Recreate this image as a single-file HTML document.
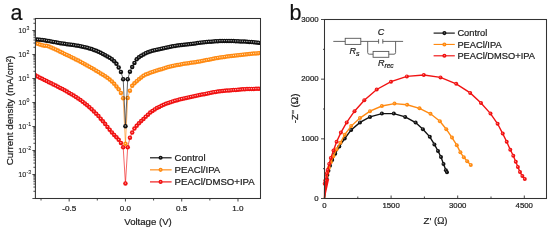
<!DOCTYPE html>
<html><head><meta charset="utf-8"><style>
html,body{margin:0;padding:0;background:#fff;width:550px;height:231px;overflow:hidden}
svg{display:block;filter:blur(0.3px)}
</style></head><body>
<svg width="550" height="231" viewBox="0 0 550 231">
<text x="10.6" y="20.2" font-size="21.5" fill="#111" font-family="Liberation Sans, sans-serif" stroke="#222" stroke-width="0.22">a</text>
<clipPath id="clipa"><rect x="35.4" y="18.5" width="225.1" height="180.0"/></clipPath><g clip-path="url(#clipa)">
<path d="M35.40,75.30 L37.65,76.48 L39.90,77.65 L42.15,78.80 L44.40,79.94 L46.65,81.07 L48.91,82.20 L51.16,83.33 L53.41,84.46 L55.66,85.60 L57.91,86.75 L60.16,87.92 L62.41,89.12 L64.66,90.34 L66.91,91.60 L69.16,92.89 L71.42,94.22 L73.67,95.60 L75.92,97.03 L78.17,98.53 L80.42,100.10 L82.67,101.74 L84.92,103.47 L87.17,105.29 L89.42,107.22 L91.67,109.26 L93.93,111.42 L96.18,113.70 L98.43,116.12 L100.68,118.66 L102.93,121.36 L105.18,124.12 L107.43,126.91 L109.68,129.69 L111.93,132.38 L114.18,134.92 L116.44,137.35 L118.69,139.85 L120.94,142.88 L123.19,147.30 L125.44,183.40 L127.69,147.30 L129.94,137.67 L132.19,132.61 L134.44,128.58 L136.70,125.86 L138.95,123.36 L141.20,121.05 L143.45,119.05 L145.70,116.78 L147.95,114.64 L150.20,112.62 L152.45,110.88 L154.70,109.38 L156.95,108.06 L159.21,106.89 L161.46,105.81 L163.71,104.80 L165.96,103.86 L168.21,102.99 L170.46,102.18 L172.71,101.44 L174.96,100.76 L177.21,100.13 L179.46,99.53 L181.72,98.96 L183.97,98.41 L186.22,97.88 L188.47,97.38 L190.72,96.90 L192.97,96.43 L195.22,95.97 L197.47,95.50 L199.72,95.05 L201.97,94.60 L204.23,94.16 L206.48,93.69 L208.73,93.20 L210.98,92.71 L213.23,92.26 L215.48,91.89 L217.73,91.58 L219.98,91.30 L222.23,91.05 L224.48,90.82 L226.74,90.62 L228.99,90.43 L231.24,90.26 L233.49,90.10 L235.74,89.94 L237.99,89.75 L240.24,89.55 L242.49,89.35 L244.74,89.18 L246.99,89.08 L249.25,89.01 L251.50,88.94 L253.75,88.88 L256.00,88.84 L258.25,88.81 L260.50,88.80" fill="none" stroke="#F01212" stroke-width="0.65"/>
<g fill="#F01212"><circle cx="35.40" cy="75.30" r="2.25"/><circle cx="37.65" cy="76.48" r="2.25"/><circle cx="39.90" cy="77.65" r="2.25"/><circle cx="42.15" cy="78.80" r="2.25"/><circle cx="44.40" cy="79.94" r="2.25"/><circle cx="46.65" cy="81.07" r="2.25"/><circle cx="48.91" cy="82.20" r="2.25"/><circle cx="51.16" cy="83.33" r="2.25"/><circle cx="53.41" cy="84.46" r="2.25"/><circle cx="55.66" cy="85.60" r="2.25"/><circle cx="57.91" cy="86.75" r="2.25"/><circle cx="60.16" cy="87.92" r="2.25"/><circle cx="62.41" cy="89.12" r="2.25"/><circle cx="64.66" cy="90.34" r="2.25"/><circle cx="66.91" cy="91.60" r="2.25"/><circle cx="69.16" cy="92.89" r="2.25"/><circle cx="71.42" cy="94.22" r="2.25"/><circle cx="73.67" cy="95.60" r="2.25"/><circle cx="75.92" cy="97.03" r="2.25"/><circle cx="78.17" cy="98.53" r="2.25"/><circle cx="80.42" cy="100.10" r="2.25"/><circle cx="82.67" cy="101.74" r="2.25"/><circle cx="84.92" cy="103.47" r="2.25"/><circle cx="87.17" cy="105.29" r="2.25"/><circle cx="89.42" cy="107.22" r="2.25"/><circle cx="91.67" cy="109.26" r="2.25"/><circle cx="93.93" cy="111.42" r="2.25"/><circle cx="96.18" cy="113.70" r="2.25"/><circle cx="98.43" cy="116.12" r="2.25"/><circle cx="100.68" cy="118.66" r="2.25"/><circle cx="102.93" cy="121.36" r="2.25"/><circle cx="105.18" cy="124.12" r="2.25"/><circle cx="107.43" cy="126.91" r="2.25"/><circle cx="109.68" cy="129.69" r="2.25"/><circle cx="111.93" cy="132.38" r="2.25"/><circle cx="114.18" cy="134.92" r="2.25"/><circle cx="116.44" cy="137.35" r="2.25"/><circle cx="118.69" cy="139.85" r="2.25"/><circle cx="120.94" cy="142.88" r="2.25"/><circle cx="123.19" cy="147.30" r="2.25"/><circle cx="125.44" cy="183.40" r="2.25"/><circle cx="127.69" cy="147.30" r="2.25"/><circle cx="129.94" cy="137.67" r="2.25"/><circle cx="132.19" cy="132.61" r="2.25"/><circle cx="134.44" cy="128.58" r="2.25"/><circle cx="136.70" cy="125.86" r="2.25"/><circle cx="138.95" cy="123.36" r="2.25"/><circle cx="141.20" cy="121.05" r="2.25"/><circle cx="143.45" cy="119.05" r="2.25"/><circle cx="145.70" cy="116.78" r="2.25"/><circle cx="147.95" cy="114.64" r="2.25"/><circle cx="150.20" cy="112.62" r="2.25"/><circle cx="152.45" cy="110.88" r="2.25"/><circle cx="154.70" cy="109.38" r="2.25"/><circle cx="156.95" cy="108.06" r="2.25"/><circle cx="159.21" cy="106.89" r="2.25"/><circle cx="161.46" cy="105.81" r="2.25"/><circle cx="163.71" cy="104.80" r="2.25"/><circle cx="165.96" cy="103.86" r="2.25"/><circle cx="168.21" cy="102.99" r="2.25"/><circle cx="170.46" cy="102.18" r="2.25"/><circle cx="172.71" cy="101.44" r="2.25"/><circle cx="174.96" cy="100.76" r="2.25"/><circle cx="177.21" cy="100.13" r="2.25"/><circle cx="179.46" cy="99.53" r="2.25"/><circle cx="181.72" cy="98.96" r="2.25"/><circle cx="183.97" cy="98.41" r="2.25"/><circle cx="186.22" cy="97.88" r="2.25"/><circle cx="188.47" cy="97.38" r="2.25"/><circle cx="190.72" cy="96.90" r="2.25"/><circle cx="192.97" cy="96.43" r="2.25"/><circle cx="195.22" cy="95.97" r="2.25"/><circle cx="197.47" cy="95.50" r="2.25"/><circle cx="199.72" cy="95.05" r="2.25"/><circle cx="201.97" cy="94.60" r="2.25"/><circle cx="204.23" cy="94.16" r="2.25"/><circle cx="206.48" cy="93.69" r="2.25"/><circle cx="208.73" cy="93.20" r="2.25"/><circle cx="210.98" cy="92.71" r="2.25"/><circle cx="213.23" cy="92.26" r="2.25"/><circle cx="215.48" cy="91.89" r="2.25"/><circle cx="217.73" cy="91.58" r="2.25"/><circle cx="219.98" cy="91.30" r="2.25"/><circle cx="222.23" cy="91.05" r="2.25"/><circle cx="224.48" cy="90.82" r="2.25"/><circle cx="226.74" cy="90.62" r="2.25"/><circle cx="228.99" cy="90.43" r="2.25"/><circle cx="231.24" cy="90.26" r="2.25"/><circle cx="233.49" cy="90.10" r="2.25"/><circle cx="235.74" cy="89.94" r="2.25"/><circle cx="237.99" cy="89.75" r="2.25"/><circle cx="240.24" cy="89.55" r="2.25"/><circle cx="242.49" cy="89.35" r="2.25"/><circle cx="244.74" cy="89.18" r="2.25"/><circle cx="246.99" cy="89.08" r="2.25"/><circle cx="249.25" cy="89.01" r="2.25"/><circle cx="251.50" cy="88.94" r="2.25"/><circle cx="253.75" cy="88.88" r="2.25"/><circle cx="256.00" cy="88.84" r="2.25"/><circle cx="258.25" cy="88.81" r="2.25"/><circle cx="260.50" cy="88.80" r="2.25"/></g>
<g fill="#FFC4C4"><circle cx="35.30" cy="75.00" r="0.62"/><circle cx="37.55" cy="76.18" r="0.62"/><circle cx="39.80" cy="77.35" r="0.62"/><circle cx="42.05" cy="78.50" r="0.62"/><circle cx="44.30" cy="79.64" r="0.62"/><circle cx="46.55" cy="80.77" r="0.62"/><circle cx="48.81" cy="81.90" r="0.62"/><circle cx="51.06" cy="83.03" r="0.62"/><circle cx="53.31" cy="84.16" r="0.62"/><circle cx="55.56" cy="85.30" r="0.62"/><circle cx="57.81" cy="86.45" r="0.62"/><circle cx="60.06" cy="87.62" r="0.62"/><circle cx="62.31" cy="88.82" r="0.62"/><circle cx="64.56" cy="90.04" r="0.62"/><circle cx="66.81" cy="91.30" r="0.62"/><circle cx="69.06" cy="92.59" r="0.62"/><circle cx="71.32" cy="93.92" r="0.62"/><circle cx="73.57" cy="95.30" r="0.62"/><circle cx="75.82" cy="96.73" r="0.62"/><circle cx="78.07" cy="98.23" r="0.62"/><circle cx="80.32" cy="99.80" r="0.62"/><circle cx="82.57" cy="101.44" r="0.62"/><circle cx="84.82" cy="103.17" r="0.62"/><circle cx="87.07" cy="104.99" r="0.62"/><circle cx="89.32" cy="106.92" r="0.62"/><circle cx="91.57" cy="108.96" r="0.62"/><circle cx="93.83" cy="111.12" r="0.62"/><circle cx="96.08" cy="113.40" r="0.62"/><circle cx="98.33" cy="115.82" r="0.62"/><circle cx="100.58" cy="118.36" r="0.62"/><circle cx="102.83" cy="121.06" r="0.62"/><circle cx="105.08" cy="123.82" r="0.62"/><circle cx="107.33" cy="126.61" r="0.62"/><circle cx="109.58" cy="129.39" r="0.62"/><circle cx="111.83" cy="132.08" r="0.62"/><circle cx="114.08" cy="134.62" r="0.62"/><circle cx="116.34" cy="137.05" r="0.62"/><circle cx="118.59" cy="139.55" r="0.62"/><circle cx="120.84" cy="142.58" r="0.62"/><circle cx="123.09" cy="147.00" r="0.62"/><circle cx="125.34" cy="183.10" r="0.62"/><circle cx="127.59" cy="147.00" r="0.62"/><circle cx="129.84" cy="137.37" r="0.62"/><circle cx="132.09" cy="132.31" r="0.62"/><circle cx="134.34" cy="128.28" r="0.62"/><circle cx="136.60" cy="125.56" r="0.62"/><circle cx="138.85" cy="123.06" r="0.62"/><circle cx="141.10" cy="120.75" r="0.62"/><circle cx="143.35" cy="118.75" r="0.62"/><circle cx="145.60" cy="116.48" r="0.62"/><circle cx="147.85" cy="114.34" r="0.62"/><circle cx="150.10" cy="112.32" r="0.62"/><circle cx="152.35" cy="110.58" r="0.62"/><circle cx="154.60" cy="109.08" r="0.62"/><circle cx="156.85" cy="107.76" r="0.62"/><circle cx="159.11" cy="106.59" r="0.62"/><circle cx="161.36" cy="105.51" r="0.62"/><circle cx="163.61" cy="104.50" r="0.62"/><circle cx="165.86" cy="103.56" r="0.62"/><circle cx="168.11" cy="102.69" r="0.62"/><circle cx="170.36" cy="101.88" r="0.62"/><circle cx="172.61" cy="101.14" r="0.62"/><circle cx="174.86" cy="100.46" r="0.62"/><circle cx="177.11" cy="99.83" r="0.62"/><circle cx="179.36" cy="99.23" r="0.62"/><circle cx="181.62" cy="98.66" r="0.62"/><circle cx="183.87" cy="98.11" r="0.62"/><circle cx="186.12" cy="97.58" r="0.62"/><circle cx="188.37" cy="97.08" r="0.62"/><circle cx="190.62" cy="96.60" r="0.62"/><circle cx="192.87" cy="96.13" r="0.62"/><circle cx="195.12" cy="95.67" r="0.62"/><circle cx="197.37" cy="95.20" r="0.62"/><circle cx="199.62" cy="94.75" r="0.62"/><circle cx="201.87" cy="94.30" r="0.62"/><circle cx="204.13" cy="93.86" r="0.62"/><circle cx="206.38" cy="93.39" r="0.62"/><circle cx="208.63" cy="92.90" r="0.62"/><circle cx="210.88" cy="92.41" r="0.62"/><circle cx="213.13" cy="91.96" r="0.62"/><circle cx="215.38" cy="91.59" r="0.62"/><circle cx="217.63" cy="91.28" r="0.62"/><circle cx="219.88" cy="91.00" r="0.62"/><circle cx="222.13" cy="90.75" r="0.62"/><circle cx="224.38" cy="90.52" r="0.62"/><circle cx="226.64" cy="90.32" r="0.62"/><circle cx="228.89" cy="90.13" r="0.62"/><circle cx="231.14" cy="89.96" r="0.62"/><circle cx="233.39" cy="89.80" r="0.62"/><circle cx="235.64" cy="89.64" r="0.62"/><circle cx="237.89" cy="89.45" r="0.62"/><circle cx="240.14" cy="89.25" r="0.62"/><circle cx="242.39" cy="89.05" r="0.62"/><circle cx="244.64" cy="88.88" r="0.62"/><circle cx="246.89" cy="88.78" r="0.62"/><circle cx="249.15" cy="88.71" r="0.62"/><circle cx="251.40" cy="88.64" r="0.62"/><circle cx="253.65" cy="88.58" r="0.62"/><circle cx="255.90" cy="88.54" r="0.62"/><circle cx="258.15" cy="88.51" r="0.62"/><circle cx="260.40" cy="88.50" r="0.62"/></g>
<path d="M35.40,43.00 L37.65,43.85 L39.90,44.57 L42.15,45.22 L44.40,45.65 L46.65,45.85 L48.91,46.56 L51.16,47.52 L53.41,48.49 L55.66,49.51 L57.91,50.61 L60.16,51.72 L62.41,52.81 L64.66,53.91 L66.91,54.99 L69.16,56.07 L71.42,57.16 L73.67,58.27 L75.92,59.39 L78.17,60.54 L80.42,61.71 L82.67,62.93 L84.92,64.17 L87.17,65.43 L89.42,66.73 L91.67,68.04 L93.93,69.36 L96.18,70.70 L98.43,72.04 L100.68,73.40 L102.93,74.77 L105.18,76.22 L107.43,77.81 L109.68,79.55 L111.93,81.54 L114.18,83.83 L116.44,86.42 L118.69,89.36 L120.94,93.04 L123.19,98.20 L125.44,143.80 L127.69,98.00 L129.94,90.66 L132.19,85.81 L134.44,83.31 L136.70,81.29 L138.95,79.34 L141.20,77.42 L143.45,75.77 L145.70,74.62 L147.95,73.66 L150.20,72.77 L152.45,71.96 L154.70,71.20 L156.95,70.51 L159.21,69.84 L161.46,69.17 L163.71,68.45 L165.96,67.70 L168.21,67.01 L170.46,66.45 L172.71,65.94 L174.96,65.48 L177.21,65.05 L179.46,64.65 L181.72,64.25 L183.97,63.87 L186.22,63.51 L188.47,63.17 L190.72,62.84 L192.97,62.51 L195.22,62.18 L197.47,61.82 L199.72,61.44 L201.97,61.02 L204.23,60.58 L206.48,60.12 L208.73,59.66 L210.98,59.19 L213.23,58.74 L215.48,58.30 L217.73,57.90 L219.98,57.53 L222.23,57.20 L224.48,56.89 L226.74,56.60 L228.99,56.32 L231.24,56.05 L233.49,55.79 L235.74,55.53 L237.99,55.28 L240.24,55.03 L242.49,54.78 L244.74,54.54 L246.99,54.30 L249.25,54.07 L251.50,53.84 L253.75,53.62 L256.00,53.41 L258.25,53.20 L260.50,53.00" fill="none" stroke="#FF8A12" stroke-width="0.65"/>
<g fill="#FF8A12"><circle cx="35.40" cy="43.00" r="2.25"/><circle cx="37.65" cy="43.85" r="2.25"/><circle cx="39.90" cy="44.57" r="2.25"/><circle cx="42.15" cy="45.22" r="2.25"/><circle cx="44.40" cy="45.65" r="2.25"/><circle cx="46.65" cy="45.85" r="2.25"/><circle cx="48.91" cy="46.56" r="2.25"/><circle cx="51.16" cy="47.52" r="2.25"/><circle cx="53.41" cy="48.49" r="2.25"/><circle cx="55.66" cy="49.51" r="2.25"/><circle cx="57.91" cy="50.61" r="2.25"/><circle cx="60.16" cy="51.72" r="2.25"/><circle cx="62.41" cy="52.81" r="2.25"/><circle cx="64.66" cy="53.91" r="2.25"/><circle cx="66.91" cy="54.99" r="2.25"/><circle cx="69.16" cy="56.07" r="2.25"/><circle cx="71.42" cy="57.16" r="2.25"/><circle cx="73.67" cy="58.27" r="2.25"/><circle cx="75.92" cy="59.39" r="2.25"/><circle cx="78.17" cy="60.54" r="2.25"/><circle cx="80.42" cy="61.71" r="2.25"/><circle cx="82.67" cy="62.93" r="2.25"/><circle cx="84.92" cy="64.17" r="2.25"/><circle cx="87.17" cy="65.43" r="2.25"/><circle cx="89.42" cy="66.73" r="2.25"/><circle cx="91.67" cy="68.04" r="2.25"/><circle cx="93.93" cy="69.36" r="2.25"/><circle cx="96.18" cy="70.70" r="2.25"/><circle cx="98.43" cy="72.04" r="2.25"/><circle cx="100.68" cy="73.40" r="2.25"/><circle cx="102.93" cy="74.77" r="2.25"/><circle cx="105.18" cy="76.22" r="2.25"/><circle cx="107.43" cy="77.81" r="2.25"/><circle cx="109.68" cy="79.55" r="2.25"/><circle cx="111.93" cy="81.54" r="2.25"/><circle cx="114.18" cy="83.83" r="2.25"/><circle cx="116.44" cy="86.42" r="2.25"/><circle cx="118.69" cy="89.36" r="2.25"/><circle cx="120.94" cy="93.04" r="2.25"/><circle cx="123.19" cy="98.20" r="2.25"/><circle cx="125.44" cy="143.80" r="2.25"/><circle cx="127.69" cy="98.00" r="2.25"/><circle cx="129.94" cy="90.66" r="2.25"/><circle cx="132.19" cy="85.81" r="2.25"/><circle cx="134.44" cy="83.31" r="2.25"/><circle cx="136.70" cy="81.29" r="2.25"/><circle cx="138.95" cy="79.34" r="2.25"/><circle cx="141.20" cy="77.42" r="2.25"/><circle cx="143.45" cy="75.77" r="2.25"/><circle cx="145.70" cy="74.62" r="2.25"/><circle cx="147.95" cy="73.66" r="2.25"/><circle cx="150.20" cy="72.77" r="2.25"/><circle cx="152.45" cy="71.96" r="2.25"/><circle cx="154.70" cy="71.20" r="2.25"/><circle cx="156.95" cy="70.51" r="2.25"/><circle cx="159.21" cy="69.84" r="2.25"/><circle cx="161.46" cy="69.17" r="2.25"/><circle cx="163.71" cy="68.45" r="2.25"/><circle cx="165.96" cy="67.70" r="2.25"/><circle cx="168.21" cy="67.01" r="2.25"/><circle cx="170.46" cy="66.45" r="2.25"/><circle cx="172.71" cy="65.94" r="2.25"/><circle cx="174.96" cy="65.48" r="2.25"/><circle cx="177.21" cy="65.05" r="2.25"/><circle cx="179.46" cy="64.65" r="2.25"/><circle cx="181.72" cy="64.25" r="2.25"/><circle cx="183.97" cy="63.87" r="2.25"/><circle cx="186.22" cy="63.51" r="2.25"/><circle cx="188.47" cy="63.17" r="2.25"/><circle cx="190.72" cy="62.84" r="2.25"/><circle cx="192.97" cy="62.51" r="2.25"/><circle cx="195.22" cy="62.18" r="2.25"/><circle cx="197.47" cy="61.82" r="2.25"/><circle cx="199.72" cy="61.44" r="2.25"/><circle cx="201.97" cy="61.02" r="2.25"/><circle cx="204.23" cy="60.58" r="2.25"/><circle cx="206.48" cy="60.12" r="2.25"/><circle cx="208.73" cy="59.66" r="2.25"/><circle cx="210.98" cy="59.19" r="2.25"/><circle cx="213.23" cy="58.74" r="2.25"/><circle cx="215.48" cy="58.30" r="2.25"/><circle cx="217.73" cy="57.90" r="2.25"/><circle cx="219.98" cy="57.53" r="2.25"/><circle cx="222.23" cy="57.20" r="2.25"/><circle cx="224.48" cy="56.89" r="2.25"/><circle cx="226.74" cy="56.60" r="2.25"/><circle cx="228.99" cy="56.32" r="2.25"/><circle cx="231.24" cy="56.05" r="2.25"/><circle cx="233.49" cy="55.79" r="2.25"/><circle cx="235.74" cy="55.53" r="2.25"/><circle cx="237.99" cy="55.28" r="2.25"/><circle cx="240.24" cy="55.03" r="2.25"/><circle cx="242.49" cy="54.78" r="2.25"/><circle cx="244.74" cy="54.54" r="2.25"/><circle cx="246.99" cy="54.30" r="2.25"/><circle cx="249.25" cy="54.07" r="2.25"/><circle cx="251.50" cy="53.84" r="2.25"/><circle cx="253.75" cy="53.62" r="2.25"/><circle cx="256.00" cy="53.41" r="2.25"/><circle cx="258.25" cy="53.20" r="2.25"/><circle cx="260.50" cy="53.00" r="2.25"/></g>
<g fill="#FFE2BE"><circle cx="35.30" cy="42.70" r="0.62"/><circle cx="37.55" cy="43.55" r="0.62"/><circle cx="39.80" cy="44.27" r="0.62"/><circle cx="42.05" cy="44.92" r="0.62"/><circle cx="44.30" cy="45.35" r="0.62"/><circle cx="46.55" cy="45.55" r="0.62"/><circle cx="48.81" cy="46.26" r="0.62"/><circle cx="51.06" cy="47.22" r="0.62"/><circle cx="53.31" cy="48.19" r="0.62"/><circle cx="55.56" cy="49.21" r="0.62"/><circle cx="57.81" cy="50.31" r="0.62"/><circle cx="60.06" cy="51.42" r="0.62"/><circle cx="62.31" cy="52.51" r="0.62"/><circle cx="64.56" cy="53.61" r="0.62"/><circle cx="66.81" cy="54.69" r="0.62"/><circle cx="69.06" cy="55.77" r="0.62"/><circle cx="71.32" cy="56.86" r="0.62"/><circle cx="73.57" cy="57.97" r="0.62"/><circle cx="75.82" cy="59.09" r="0.62"/><circle cx="78.07" cy="60.24" r="0.62"/><circle cx="80.32" cy="61.41" r="0.62"/><circle cx="82.57" cy="62.63" r="0.62"/><circle cx="84.82" cy="63.87" r="0.62"/><circle cx="87.07" cy="65.13" r="0.62"/><circle cx="89.32" cy="66.43" r="0.62"/><circle cx="91.57" cy="67.74" r="0.62"/><circle cx="93.83" cy="69.06" r="0.62"/><circle cx="96.08" cy="70.40" r="0.62"/><circle cx="98.33" cy="71.74" r="0.62"/><circle cx="100.58" cy="73.10" r="0.62"/><circle cx="102.83" cy="74.47" r="0.62"/><circle cx="105.08" cy="75.92" r="0.62"/><circle cx="107.33" cy="77.51" r="0.62"/><circle cx="109.58" cy="79.25" r="0.62"/><circle cx="111.83" cy="81.24" r="0.62"/><circle cx="114.08" cy="83.53" r="0.62"/><circle cx="116.34" cy="86.12" r="0.62"/><circle cx="118.59" cy="89.06" r="0.62"/><circle cx="120.84" cy="92.74" r="0.62"/><circle cx="123.09" cy="97.90" r="0.62"/><circle cx="125.34" cy="143.50" r="0.62"/><circle cx="127.59" cy="97.70" r="0.62"/><circle cx="129.84" cy="90.36" r="0.62"/><circle cx="132.09" cy="85.51" r="0.62"/><circle cx="134.34" cy="83.01" r="0.62"/><circle cx="136.60" cy="80.99" r="0.62"/><circle cx="138.85" cy="79.04" r="0.62"/><circle cx="141.10" cy="77.12" r="0.62"/><circle cx="143.35" cy="75.47" r="0.62"/><circle cx="145.60" cy="74.32" r="0.62"/><circle cx="147.85" cy="73.36" r="0.62"/><circle cx="150.10" cy="72.47" r="0.62"/><circle cx="152.35" cy="71.66" r="0.62"/><circle cx="154.60" cy="70.90" r="0.62"/><circle cx="156.85" cy="70.21" r="0.62"/><circle cx="159.11" cy="69.54" r="0.62"/><circle cx="161.36" cy="68.87" r="0.62"/><circle cx="163.61" cy="68.15" r="0.62"/><circle cx="165.86" cy="67.40" r="0.62"/><circle cx="168.11" cy="66.71" r="0.62"/><circle cx="170.36" cy="66.15" r="0.62"/><circle cx="172.61" cy="65.64" r="0.62"/><circle cx="174.86" cy="65.18" r="0.62"/><circle cx="177.11" cy="64.75" r="0.62"/><circle cx="179.36" cy="64.35" r="0.62"/><circle cx="181.62" cy="63.95" r="0.62"/><circle cx="183.87" cy="63.57" r="0.62"/><circle cx="186.12" cy="63.21" r="0.62"/><circle cx="188.37" cy="62.87" r="0.62"/><circle cx="190.62" cy="62.54" r="0.62"/><circle cx="192.87" cy="62.21" r="0.62"/><circle cx="195.12" cy="61.88" r="0.62"/><circle cx="197.37" cy="61.52" r="0.62"/><circle cx="199.62" cy="61.14" r="0.62"/><circle cx="201.87" cy="60.72" r="0.62"/><circle cx="204.13" cy="60.28" r="0.62"/><circle cx="206.38" cy="59.82" r="0.62"/><circle cx="208.63" cy="59.36" r="0.62"/><circle cx="210.88" cy="58.89" r="0.62"/><circle cx="213.13" cy="58.44" r="0.62"/><circle cx="215.38" cy="58.00" r="0.62"/><circle cx="217.63" cy="57.60" r="0.62"/><circle cx="219.88" cy="57.23" r="0.62"/><circle cx="222.13" cy="56.90" r="0.62"/><circle cx="224.38" cy="56.59" r="0.62"/><circle cx="226.64" cy="56.30" r="0.62"/><circle cx="228.89" cy="56.02" r="0.62"/><circle cx="231.14" cy="55.75" r="0.62"/><circle cx="233.39" cy="55.49" r="0.62"/><circle cx="235.64" cy="55.23" r="0.62"/><circle cx="237.89" cy="54.98" r="0.62"/><circle cx="240.14" cy="54.73" r="0.62"/><circle cx="242.39" cy="54.48" r="0.62"/><circle cx="244.64" cy="54.24" r="0.62"/><circle cx="246.89" cy="54.00" r="0.62"/><circle cx="249.15" cy="53.77" r="0.62"/><circle cx="251.40" cy="53.54" r="0.62"/><circle cx="253.65" cy="53.32" r="0.62"/><circle cx="255.90" cy="53.11" r="0.62"/><circle cx="258.15" cy="52.90" r="0.62"/><circle cx="260.40" cy="52.70" r="0.62"/></g>
<path d="M35.40,39.48 L37.65,39.58 L39.90,39.73 L42.15,39.97 L44.40,40.28 L46.65,40.63 L48.91,41.04 L51.16,41.46 L53.41,41.90 L55.66,42.33 L57.91,42.75 L60.16,43.15 L62.41,43.50 L64.66,43.84 L66.91,44.16 L69.16,44.46 L71.42,44.78 L73.67,45.09 L75.92,45.43 L78.17,45.80 L80.42,46.21 L82.67,46.66 L84.92,47.17 L87.17,47.75 L89.42,48.39 L91.67,49.12 L93.93,49.95 L96.18,50.85 L98.43,51.83 L100.68,52.87 L102.93,53.99 L105.18,55.17 L107.43,56.39 L109.68,57.73 L111.93,59.27 L114.18,61.24 L116.44,63.85 L118.69,67.49 L120.94,71.89 L123.19,79.20 L125.44,126.20 L127.69,79.20 L129.94,71.65 L132.19,67.08 L134.44,62.88 L136.70,59.31 L138.95,57.33 L141.20,55.72 L143.45,54.38 L145.70,53.27 L147.95,52.34 L150.20,51.53 L152.45,50.83 L154.70,50.23 L156.95,49.70 L159.21,49.21 L161.46,48.73 L163.71,48.24 L165.96,47.75 L168.21,47.26 L170.46,46.79 L172.71,46.35 L174.96,45.96 L177.21,45.62 L179.46,45.32 L181.72,45.05 L183.97,44.80 L186.22,44.56 L188.47,44.32 L190.72,44.06 L192.97,43.78 L195.22,43.45 L197.47,43.10 L199.72,42.76 L201.97,42.47 L204.23,42.26 L206.48,42.04 L208.73,41.83 L210.98,41.63 L213.23,41.45 L215.48,41.28 L217.73,41.14 L219.98,41.03 L222.23,40.95 L224.48,40.90 L226.74,40.91 L228.99,40.94 L231.24,41.00 L233.49,41.08 L235.74,41.18 L237.99,41.28 L240.24,41.38 L242.49,41.49 L244.74,41.62 L246.99,41.76 L249.25,41.92 L251.50,42.09 L253.75,42.27 L256.00,42.47 L258.25,42.68 L260.50,42.90" fill="none" stroke="#111111" stroke-width="0.65"/>
<g fill="#111111"><circle cx="35.40" cy="39.48" r="2.25"/><circle cx="37.65" cy="39.58" r="2.25"/><circle cx="39.90" cy="39.73" r="2.25"/><circle cx="42.15" cy="39.97" r="2.25"/><circle cx="44.40" cy="40.28" r="2.25"/><circle cx="46.65" cy="40.63" r="2.25"/><circle cx="48.91" cy="41.04" r="2.25"/><circle cx="51.16" cy="41.46" r="2.25"/><circle cx="53.41" cy="41.90" r="2.25"/><circle cx="55.66" cy="42.33" r="2.25"/><circle cx="57.91" cy="42.75" r="2.25"/><circle cx="60.16" cy="43.15" r="2.25"/><circle cx="62.41" cy="43.50" r="2.25"/><circle cx="64.66" cy="43.84" r="2.25"/><circle cx="66.91" cy="44.16" r="2.25"/><circle cx="69.16" cy="44.46" r="2.25"/><circle cx="71.42" cy="44.78" r="2.25"/><circle cx="73.67" cy="45.09" r="2.25"/><circle cx="75.92" cy="45.43" r="2.25"/><circle cx="78.17" cy="45.80" r="2.25"/><circle cx="80.42" cy="46.21" r="2.25"/><circle cx="82.67" cy="46.66" r="2.25"/><circle cx="84.92" cy="47.17" r="2.25"/><circle cx="87.17" cy="47.75" r="2.25"/><circle cx="89.42" cy="48.39" r="2.25"/><circle cx="91.67" cy="49.12" r="2.25"/><circle cx="93.93" cy="49.95" r="2.25"/><circle cx="96.18" cy="50.85" r="2.25"/><circle cx="98.43" cy="51.83" r="2.25"/><circle cx="100.68" cy="52.87" r="2.25"/><circle cx="102.93" cy="53.99" r="2.25"/><circle cx="105.18" cy="55.17" r="2.25"/><circle cx="107.43" cy="56.39" r="2.25"/><circle cx="109.68" cy="57.73" r="2.25"/><circle cx="111.93" cy="59.27" r="2.25"/><circle cx="114.18" cy="61.24" r="2.25"/><circle cx="116.44" cy="63.85" r="2.25"/><circle cx="118.69" cy="67.49" r="2.25"/><circle cx="120.94" cy="71.89" r="2.25"/><circle cx="123.19" cy="79.20" r="2.25"/><circle cx="125.44" cy="126.20" r="2.25"/><circle cx="127.69" cy="79.20" r="2.25"/><circle cx="129.94" cy="71.65" r="2.25"/><circle cx="132.19" cy="67.08" r="2.25"/><circle cx="134.44" cy="62.88" r="2.25"/><circle cx="136.70" cy="59.31" r="2.25"/><circle cx="138.95" cy="57.33" r="2.25"/><circle cx="141.20" cy="55.72" r="2.25"/><circle cx="143.45" cy="54.38" r="2.25"/><circle cx="145.70" cy="53.27" r="2.25"/><circle cx="147.95" cy="52.34" r="2.25"/><circle cx="150.20" cy="51.53" r="2.25"/><circle cx="152.45" cy="50.83" r="2.25"/><circle cx="154.70" cy="50.23" r="2.25"/><circle cx="156.95" cy="49.70" r="2.25"/><circle cx="159.21" cy="49.21" r="2.25"/><circle cx="161.46" cy="48.73" r="2.25"/><circle cx="163.71" cy="48.24" r="2.25"/><circle cx="165.96" cy="47.75" r="2.25"/><circle cx="168.21" cy="47.26" r="2.25"/><circle cx="170.46" cy="46.79" r="2.25"/><circle cx="172.71" cy="46.35" r="2.25"/><circle cx="174.96" cy="45.96" r="2.25"/><circle cx="177.21" cy="45.62" r="2.25"/><circle cx="179.46" cy="45.32" r="2.25"/><circle cx="181.72" cy="45.05" r="2.25"/><circle cx="183.97" cy="44.80" r="2.25"/><circle cx="186.22" cy="44.56" r="2.25"/><circle cx="188.47" cy="44.32" r="2.25"/><circle cx="190.72" cy="44.06" r="2.25"/><circle cx="192.97" cy="43.78" r="2.25"/><circle cx="195.22" cy="43.45" r="2.25"/><circle cx="197.47" cy="43.10" r="2.25"/><circle cx="199.72" cy="42.76" r="2.25"/><circle cx="201.97" cy="42.47" r="2.25"/><circle cx="204.23" cy="42.26" r="2.25"/><circle cx="206.48" cy="42.04" r="2.25"/><circle cx="208.73" cy="41.83" r="2.25"/><circle cx="210.98" cy="41.63" r="2.25"/><circle cx="213.23" cy="41.45" r="2.25"/><circle cx="215.48" cy="41.28" r="2.25"/><circle cx="217.73" cy="41.14" r="2.25"/><circle cx="219.98" cy="41.03" r="2.25"/><circle cx="222.23" cy="40.95" r="2.25"/><circle cx="224.48" cy="40.90" r="2.25"/><circle cx="226.74" cy="40.91" r="2.25"/><circle cx="228.99" cy="40.94" r="2.25"/><circle cx="231.24" cy="41.00" r="2.25"/><circle cx="233.49" cy="41.08" r="2.25"/><circle cx="235.74" cy="41.18" r="2.25"/><circle cx="237.99" cy="41.28" r="2.25"/><circle cx="240.24" cy="41.38" r="2.25"/><circle cx="242.49" cy="41.49" r="2.25"/><circle cx="244.74" cy="41.62" r="2.25"/><circle cx="246.99" cy="41.76" r="2.25"/><circle cx="249.25" cy="41.92" r="2.25"/><circle cx="251.50" cy="42.09" r="2.25"/><circle cx="253.75" cy="42.27" r="2.25"/><circle cx="256.00" cy="42.47" r="2.25"/><circle cx="258.25" cy="42.68" r="2.25"/><circle cx="260.50" cy="42.90" r="2.25"/></g>
<g fill="#c8c8c8"><circle cx="35.30" cy="39.18" r="0.62"/><circle cx="37.55" cy="39.28" r="0.62"/><circle cx="39.80" cy="39.43" r="0.62"/><circle cx="42.05" cy="39.67" r="0.62"/><circle cx="44.30" cy="39.98" r="0.62"/><circle cx="46.55" cy="40.33" r="0.62"/><circle cx="48.81" cy="40.74" r="0.62"/><circle cx="51.06" cy="41.16" r="0.62"/><circle cx="53.31" cy="41.60" r="0.62"/><circle cx="55.56" cy="42.03" r="0.62"/><circle cx="57.81" cy="42.45" r="0.62"/><circle cx="60.06" cy="42.85" r="0.62"/><circle cx="62.31" cy="43.20" r="0.62"/><circle cx="64.56" cy="43.54" r="0.62"/><circle cx="66.81" cy="43.86" r="0.62"/><circle cx="69.06" cy="44.16" r="0.62"/><circle cx="71.32" cy="44.48" r="0.62"/><circle cx="73.57" cy="44.79" r="0.62"/><circle cx="75.82" cy="45.13" r="0.62"/><circle cx="78.07" cy="45.50" r="0.62"/><circle cx="80.32" cy="45.91" r="0.62"/><circle cx="82.57" cy="46.36" r="0.62"/><circle cx="84.82" cy="46.87" r="0.62"/><circle cx="87.07" cy="47.45" r="0.62"/><circle cx="89.32" cy="48.09" r="0.62"/><circle cx="91.57" cy="48.82" r="0.62"/><circle cx="93.83" cy="49.65" r="0.62"/><circle cx="96.08" cy="50.55" r="0.62"/><circle cx="98.33" cy="51.53" r="0.62"/><circle cx="100.58" cy="52.57" r="0.62"/><circle cx="102.83" cy="53.69" r="0.62"/><circle cx="105.08" cy="54.87" r="0.62"/><circle cx="107.33" cy="56.09" r="0.62"/><circle cx="109.58" cy="57.43" r="0.62"/><circle cx="111.83" cy="58.97" r="0.62"/><circle cx="114.08" cy="60.94" r="0.62"/><circle cx="116.34" cy="63.55" r="0.62"/><circle cx="118.59" cy="67.19" r="0.62"/><circle cx="120.84" cy="71.59" r="0.62"/><circle cx="123.09" cy="78.90" r="0.62"/><circle cx="125.34" cy="125.90" r="0.62"/><circle cx="127.59" cy="78.90" r="0.62"/><circle cx="129.84" cy="71.35" r="0.62"/><circle cx="132.09" cy="66.78" r="0.62"/><circle cx="134.34" cy="62.58" r="0.62"/><circle cx="136.60" cy="59.01" r="0.62"/><circle cx="138.85" cy="57.03" r="0.62"/><circle cx="141.10" cy="55.42" r="0.62"/><circle cx="143.35" cy="54.08" r="0.62"/><circle cx="145.60" cy="52.97" r="0.62"/><circle cx="147.85" cy="52.04" r="0.62"/><circle cx="150.10" cy="51.23" r="0.62"/><circle cx="152.35" cy="50.53" r="0.62"/><circle cx="154.60" cy="49.93" r="0.62"/><circle cx="156.85" cy="49.40" r="0.62"/><circle cx="159.11" cy="48.91" r="0.62"/><circle cx="161.36" cy="48.43" r="0.62"/><circle cx="163.61" cy="47.94" r="0.62"/><circle cx="165.86" cy="47.45" r="0.62"/><circle cx="168.11" cy="46.96" r="0.62"/><circle cx="170.36" cy="46.49" r="0.62"/><circle cx="172.61" cy="46.05" r="0.62"/><circle cx="174.86" cy="45.66" r="0.62"/><circle cx="177.11" cy="45.32" r="0.62"/><circle cx="179.36" cy="45.02" r="0.62"/><circle cx="181.62" cy="44.75" r="0.62"/><circle cx="183.87" cy="44.50" r="0.62"/><circle cx="186.12" cy="44.26" r="0.62"/><circle cx="188.37" cy="44.02" r="0.62"/><circle cx="190.62" cy="43.76" r="0.62"/><circle cx="192.87" cy="43.48" r="0.62"/><circle cx="195.12" cy="43.15" r="0.62"/><circle cx="197.37" cy="42.80" r="0.62"/><circle cx="199.62" cy="42.46" r="0.62"/><circle cx="201.87" cy="42.17" r="0.62"/><circle cx="204.13" cy="41.96" r="0.62"/><circle cx="206.38" cy="41.74" r="0.62"/><circle cx="208.63" cy="41.53" r="0.62"/><circle cx="210.88" cy="41.33" r="0.62"/><circle cx="213.13" cy="41.15" r="0.62"/><circle cx="215.38" cy="40.98" r="0.62"/><circle cx="217.63" cy="40.84" r="0.62"/><circle cx="219.88" cy="40.73" r="0.62"/><circle cx="222.13" cy="40.65" r="0.62"/><circle cx="224.38" cy="40.60" r="0.62"/><circle cx="226.64" cy="40.61" r="0.62"/><circle cx="228.89" cy="40.64" r="0.62"/><circle cx="231.14" cy="40.70" r="0.62"/><circle cx="233.39" cy="40.78" r="0.62"/><circle cx="235.64" cy="40.88" r="0.62"/><circle cx="237.89" cy="40.98" r="0.62"/><circle cx="240.14" cy="41.08" r="0.62"/><circle cx="242.39" cy="41.19" r="0.62"/><circle cx="244.64" cy="41.32" r="0.62"/><circle cx="246.89" cy="41.46" r="0.62"/><circle cx="249.15" cy="41.62" r="0.62"/><circle cx="251.40" cy="41.79" r="0.62"/><circle cx="253.65" cy="41.97" r="0.62"/><circle cx="255.90" cy="42.17" r="0.62"/><circle cx="258.15" cy="42.38" r="0.62"/><circle cx="260.40" cy="42.60" r="0.62"/></g>
</g>
<rect x="35.4" y="18.5" width="225.1" height="180.0" fill="none" stroke="#333333" stroke-width="1.05"/>
<path d="M41.03,198.5 v2 M69.17,198.5 v3 M97.30,198.5 v2 M125.44,198.5 v3 M153.58,198.5 v2 M181.72,198.5 v3 M209.85,198.5 v2 M237.99,198.5 v3 M35.4,198.50 h-3 M35.4,191.28 h-2 M35.4,187.05 h-2 M35.4,184.05 h-2 M35.4,181.72 h-2 M35.4,179.82 h-2 M35.4,178.22 h-2 M35.4,176.83 h-2 M35.4,175.60 h-2 M35.4,174.50 h-3 M35.4,167.28 h-2 M35.4,163.05 h-2 M35.4,160.05 h-2 M35.4,157.72 h-2 M35.4,155.82 h-2 M35.4,154.22 h-2 M35.4,152.83 h-2 M35.4,151.60 h-2 M35.4,150.50 h-3 M35.4,143.28 h-2 M35.4,139.05 h-2 M35.4,136.05 h-2 M35.4,133.72 h-2 M35.4,131.82 h-2 M35.4,130.22 h-2 M35.4,128.83 h-2 M35.4,127.60 h-2 M35.4,126.50 h-3 M35.4,119.28 h-2 M35.4,115.05 h-2 M35.4,112.05 h-2 M35.4,109.72 h-2 M35.4,107.82 h-2 M35.4,106.22 h-2 M35.4,104.83 h-2 M35.4,103.60 h-2 M35.4,102.50 h-3 M35.4,95.28 h-2 M35.4,91.05 h-2 M35.4,88.05 h-2 M35.4,85.72 h-2 M35.4,83.82 h-2 M35.4,82.22 h-2 M35.4,80.83 h-2 M35.4,79.60 h-2 M35.4,78.50 h-3 M35.4,71.28 h-2 M35.4,67.05 h-2 M35.4,64.05 h-2 M35.4,61.72 h-2 M35.4,59.82 h-2 M35.4,58.22 h-2 M35.4,56.83 h-2 M35.4,55.60 h-2 M35.4,54.50 h-3 M35.4,47.28 h-2 M35.4,43.05 h-2 M35.4,40.05 h-2 M35.4,37.72 h-2 M35.4,35.82 h-2 M35.4,34.22 h-2 M35.4,32.83 h-2 M35.4,31.60 h-2 M35.4,30.50 h-3 M35.4,23.28 h-2 M35.4,19.05 h-2" stroke="#333333" stroke-width="0.9" fill="none"/>
<text x="69.17" y="211" font-size="8.1" text-anchor="middle" fill="#222222" font-family="Liberation Sans, sans-serif" stroke="#222" stroke-width="0.22">-0.5</text>
<text x="125.44" y="211" font-size="8.1" text-anchor="middle" fill="#222222" font-family="Liberation Sans, sans-serif" stroke="#222" stroke-width="0.22">0.0</text>
<text x="181.72" y="211" font-size="8.1" text-anchor="middle" fill="#222222" font-family="Liberation Sans, sans-serif" stroke="#222" stroke-width="0.22">0.5</text>
<text x="237.99" y="211" font-size="8.1" text-anchor="middle" fill="#222222" font-family="Liberation Sans, sans-serif" stroke="#222" stroke-width="0.22">1.0</text>
<text x="26.3" y="32.90" font-size="7.3" text-anchor="end" fill="#222222" font-family="Liberation Sans, sans-serif" stroke="#222" stroke-width="0.1">10</text>
<text x="26.6" y="30.10" font-size="5.2" fill="#222222" font-family="Liberation Sans, sans-serif" stroke="#222" stroke-width="0.1">3</text>
<text x="26.3" y="56.90" font-size="7.3" text-anchor="end" fill="#222222" font-family="Liberation Sans, sans-serif" stroke="#222" stroke-width="0.1">10</text>
<text x="26.6" y="54.10" font-size="5.2" fill="#222222" font-family="Liberation Sans, sans-serif" stroke="#222" stroke-width="0.1">2</text>
<text x="26.3" y="80.90" font-size="7.3" text-anchor="end" fill="#222222" font-family="Liberation Sans, sans-serif" stroke="#222" stroke-width="0.1">10</text>
<text x="26.6" y="78.10" font-size="5.2" fill="#222222" font-family="Liberation Sans, sans-serif" stroke="#222" stroke-width="0.1">1</text>
<text x="26.3" y="104.90" font-size="7.3" text-anchor="end" fill="#222222" font-family="Liberation Sans, sans-serif" stroke="#222" stroke-width="0.1">10</text>
<text x="26.6" y="102.10" font-size="5.2" fill="#222222" font-family="Liberation Sans, sans-serif" stroke="#222" stroke-width="0.1">0</text>
<text x="26.3" y="128.90" font-size="7.3" text-anchor="end" fill="#222222" font-family="Liberation Sans, sans-serif" stroke="#222" stroke-width="0.1">10</text>
<text x="26.6" y="126.10" font-size="5.2" fill="#222222" font-family="Liberation Sans, sans-serif" stroke="#222" stroke-width="0.1">-1</text>
<text x="26.3" y="152.90" font-size="7.3" text-anchor="end" fill="#222222" font-family="Liberation Sans, sans-serif" stroke="#222" stroke-width="0.1">10</text>
<text x="26.6" y="150.10" font-size="5.2" fill="#222222" font-family="Liberation Sans, sans-serif" stroke="#222" stroke-width="0.1">-2</text>
<text x="26.3" y="176.90" font-size="7.3" text-anchor="end" fill="#222222" font-family="Liberation Sans, sans-serif" stroke="#222" stroke-width="0.1">10</text>
<text x="26.6" y="174.10" font-size="5.2" fill="#222222" font-family="Liberation Sans, sans-serif" stroke="#222" stroke-width="0.1">-3</text>
<text x="148" y="225.4" font-size="9.6" text-anchor="middle" fill="#222222" font-family="Liberation Sans, sans-serif" stroke="#222" stroke-width="0.22">Voltage (V)</text>
<text transform="translate(13.4,110.5) rotate(-90)" font-size="9.8" text-anchor="middle" fill="#222222" font-family="Liberation Sans, sans-serif" stroke="#222" stroke-width="0.22">Current density (mA/cm²)</text>
<path d="M150,157.80 H171.6" stroke="#111111" stroke-width="1.15"/>
<circle cx="160.6" cy="157.80" r="2.05" fill="#111111"/><circle cx="160.6" cy="157.60" r="0.6" fill="#7a7a7a"/>
<text x="174.6" y="161.00" font-size="9.6" fill="#222222" font-family="Liberation Sans, sans-serif" stroke="#222" stroke-width="0.22">Control</text>
<path d="M150,169.85 H171.6" stroke="#FF8A12" stroke-width="1.15"/>
<circle cx="160.6" cy="169.85" r="2.05" fill="#FF8A12"/><circle cx="160.6" cy="169.65" r="0.6" fill="#FFBE70"/>
<text x="174.6" y="173.05" font-size="9.6" fill="#222222" font-family="Liberation Sans, sans-serif" stroke="#222" stroke-width="0.22">PEACl/IPA</text>
<path d="M150,181.90 H171.6" stroke="#F01212" stroke-width="1.15"/>
<circle cx="160.6" cy="181.90" r="2.05" fill="#F01212"/><circle cx="160.6" cy="181.70" r="0.6" fill="#FF8080"/>
<text x="174.6" y="185.10" font-size="9.6" fill="#222222" font-family="Liberation Sans, sans-serif" stroke="#222" stroke-width="0.22">PEACl/DMSO+IPA</text>
<text x="289.6" y="20.2" font-size="21.5" fill="#111" font-family="Liberation Sans, sans-serif" stroke="#222" stroke-width="0.22">b</text>
<path d="M447.00,172.20 L445.90,170.20 L443.50,164.10 L441.00,157.10 L438.00,151.00 L434.40,144.40 L429.80,136.80 L422.90,129.20 L415.60,122.60 L405.20,116.90 L393.80,113.60 L381.90,113.60 L370.00,116.90 L360.00,122.40 L351.20,129.90 L344.70,138.50 L339.30,146.60 L335.22,153.65 L332.21,160.10 L330.03,165.82 L328.47,170.77 L327.37,174.99 L326.59,178.54 L324.50,198.50" fill="none" stroke="#111111" stroke-width="1.4"/>
<g fill="#111111"><circle cx="447.00" cy="172.20" r="2.0"/><circle cx="445.90" cy="170.20" r="2.0"/><circle cx="443.50" cy="164.10" r="2.0"/><circle cx="441.00" cy="157.10" r="2.0"/><circle cx="438.00" cy="151.00" r="2.0"/><circle cx="434.40" cy="144.40" r="2.0"/><circle cx="429.80" cy="136.80" r="2.0"/><circle cx="422.90" cy="129.20" r="2.0"/><circle cx="415.60" cy="122.60" r="2.0"/><circle cx="405.20" cy="116.90" r="2.0"/><circle cx="393.80" cy="113.60" r="2.0"/><circle cx="381.90" cy="113.60" r="2.0"/><circle cx="370.00" cy="116.90" r="2.0"/><circle cx="360.00" cy="122.40" r="2.0"/><circle cx="351.20" cy="129.90" r="2.0"/><circle cx="344.70" cy="138.50" r="2.0"/><circle cx="339.30" cy="146.60" r="2.0"/><circle cx="335.22" cy="153.65" r="2.0"/><circle cx="332.21" cy="160.10" r="2.0"/><circle cx="330.03" cy="165.82" r="2.0"/><circle cx="328.47" cy="170.77" r="2.0"/><circle cx="327.37" cy="174.99" r="2.0"/><circle cx="326.59" cy="178.54" r="2.0"/></g>
<g fill="#7a7a7a"><circle cx="446.60" cy="171.80" r="0.65"/><circle cx="445.50" cy="169.80" r="0.65"/><circle cx="443.10" cy="163.70" r="0.65"/><circle cx="440.60" cy="156.70" r="0.65"/><circle cx="437.60" cy="150.60" r="0.65"/><circle cx="434.00" cy="144.00" r="0.65"/><circle cx="429.40" cy="136.40" r="0.65"/><circle cx="422.50" cy="128.80" r="0.65"/><circle cx="415.20" cy="122.20" r="0.65"/><circle cx="404.80" cy="116.50" r="0.65"/><circle cx="393.40" cy="113.20" r="0.65"/><circle cx="381.50" cy="113.20" r="0.65"/><circle cx="369.60" cy="116.50" r="0.65"/><circle cx="359.60" cy="122.00" r="0.65"/><circle cx="350.80" cy="129.50" r="0.65"/><circle cx="344.30" cy="138.10" r="0.65"/><circle cx="338.90" cy="146.20" r="0.65"/><circle cx="334.82" cy="153.25" r="0.65"/><circle cx="331.81" cy="159.70" r="0.65"/><circle cx="329.63" cy="165.42" r="0.65"/><circle cx="328.07" cy="170.37" r="0.65"/><circle cx="326.97" cy="174.59" r="0.65"/><circle cx="326.19" cy="178.14" r="0.65"/></g>
<path d="M470.80,164.90 L467.20,161.30 L463.80,157.30 L460.40,152.30 L456.80,145.20 L452.00,137.60 L446.30,129.20 L439.90,121.30 L430.50,113.80 L419.50,108.30 L407.10,104.80 L394.50,103.60 L381.90,106.00 L370.00,111.20 L360.00,118.10 L351.20,126.10 L344.70,134.70 L340.40,142.80 L336.60,149.30 L333.31,156.20 L330.81,162.37 L328.92,167.78 L327.48,172.47 L326.39,176.51 L325.54,179.95 L324.50,198.50" fill="none" stroke="#FF8A12" stroke-width="1.4"/>
<g fill="#FF8A12"><circle cx="470.80" cy="164.90" r="2.0"/><circle cx="467.20" cy="161.30" r="2.0"/><circle cx="463.80" cy="157.30" r="2.0"/><circle cx="460.40" cy="152.30" r="2.0"/><circle cx="456.80" cy="145.20" r="2.0"/><circle cx="452.00" cy="137.60" r="2.0"/><circle cx="446.30" cy="129.20" r="2.0"/><circle cx="439.90" cy="121.30" r="2.0"/><circle cx="430.50" cy="113.80" r="2.0"/><circle cx="419.50" cy="108.30" r="2.0"/><circle cx="407.10" cy="104.80" r="2.0"/><circle cx="394.50" cy="103.60" r="2.0"/><circle cx="381.90" cy="106.00" r="2.0"/><circle cx="370.00" cy="111.20" r="2.0"/><circle cx="360.00" cy="118.10" r="2.0"/><circle cx="351.20" cy="126.10" r="2.0"/><circle cx="344.70" cy="134.70" r="2.0"/><circle cx="340.40" cy="142.80" r="2.0"/><circle cx="336.60" cy="149.30" r="2.0"/><circle cx="333.31" cy="156.20" r="2.0"/><circle cx="330.81" cy="162.37" r="2.0"/><circle cx="328.92" cy="167.78" r="2.0"/><circle cx="327.48" cy="172.47" r="2.0"/><circle cx="326.39" cy="176.51" r="2.0"/><circle cx="325.54" cy="179.95" r="2.0"/></g>
<g fill="#FFBE70"><circle cx="470.40" cy="164.50" r="0.65"/><circle cx="466.80" cy="160.90" r="0.65"/><circle cx="463.40" cy="156.90" r="0.65"/><circle cx="460.00" cy="151.90" r="0.65"/><circle cx="456.40" cy="144.80" r="0.65"/><circle cx="451.60" cy="137.20" r="0.65"/><circle cx="445.90" cy="128.80" r="0.65"/><circle cx="439.50" cy="120.90" r="0.65"/><circle cx="430.10" cy="113.40" r="0.65"/><circle cx="419.10" cy="107.90" r="0.65"/><circle cx="406.70" cy="104.40" r="0.65"/><circle cx="394.10" cy="103.20" r="0.65"/><circle cx="381.50" cy="105.60" r="0.65"/><circle cx="369.60" cy="110.80" r="0.65"/><circle cx="359.60" cy="117.70" r="0.65"/><circle cx="350.80" cy="125.70" r="0.65"/><circle cx="344.30" cy="134.30" r="0.65"/><circle cx="340.00" cy="142.40" r="0.65"/><circle cx="336.20" cy="148.90" r="0.65"/><circle cx="332.91" cy="155.80" r="0.65"/><circle cx="330.41" cy="161.97" r="0.65"/><circle cx="328.52" cy="167.38" r="0.65"/><circle cx="327.08" cy="172.07" r="0.65"/><circle cx="325.99" cy="176.11" r="0.65"/><circle cx="325.14" cy="179.55" r="0.65"/></g>
<path d="M324.9,198.2 L325.3,179 L329.2,179 Z" fill="#F01212"/>
<path d="M524.80,179.10 L522.40,176.10 L520.00,172.10 L517.90,167.00 L515.80,161.80 L513.30,155.80 L510.30,149.70 L506.70,141.80 L502.70,133.60 L497.60,123.80 L490.50,113.60 L481.00,103.10 L470.20,92.90 L456.20,83.80 L440.50,77.40 L423.80,75.00 L406.90,76.40 L391.00,81.70 L376.70,89.50 L364.30,100.20 L354.50,111.20 L346.70,122.40 L340.90,132.60 L336.60,141.80 L333.50,150.50 L330.80,158.10 L329.20,164.10 L327.60,170.00 L327.00,173.30 L326.05,177.37 L325.30,180.81 L324.70,183.73 L324.50,198.50" fill="none" stroke="#F01212" stroke-width="1.4"/>
<g fill="#F01212"><circle cx="524.80" cy="179.10" r="2.0"/><circle cx="522.40" cy="176.10" r="2.0"/><circle cx="520.00" cy="172.10" r="2.0"/><circle cx="517.90" cy="167.00" r="2.0"/><circle cx="515.80" cy="161.80" r="2.0"/><circle cx="513.30" cy="155.80" r="2.0"/><circle cx="510.30" cy="149.70" r="2.0"/><circle cx="506.70" cy="141.80" r="2.0"/><circle cx="502.70" cy="133.60" r="2.0"/><circle cx="497.60" cy="123.80" r="2.0"/><circle cx="490.50" cy="113.60" r="2.0"/><circle cx="481.00" cy="103.10" r="2.0"/><circle cx="470.20" cy="92.90" r="2.0"/><circle cx="456.20" cy="83.80" r="2.0"/><circle cx="440.50" cy="77.40" r="2.0"/><circle cx="423.80" cy="75.00" r="2.0"/><circle cx="406.90" cy="76.40" r="2.0"/><circle cx="391.00" cy="81.70" r="2.0"/><circle cx="376.70" cy="89.50" r="2.0"/><circle cx="364.30" cy="100.20" r="2.0"/><circle cx="354.50" cy="111.20" r="2.0"/><circle cx="346.70" cy="122.40" r="2.0"/><circle cx="340.90" cy="132.60" r="2.0"/><circle cx="336.60" cy="141.80" r="2.0"/><circle cx="333.50" cy="150.50" r="2.0"/><circle cx="330.80" cy="158.10" r="2.0"/><circle cx="329.20" cy="164.10" r="2.0"/><circle cx="327.60" cy="170.00" r="2.0"/><circle cx="327.00" cy="173.30" r="2.0"/><circle cx="326.05" cy="177.37" r="2.0"/><circle cx="325.30" cy="180.81" r="2.0"/><circle cx="324.70" cy="183.73" r="2.0"/></g>
<g fill="#FF8080"><circle cx="524.40" cy="178.70" r="0.65"/><circle cx="522.00" cy="175.70" r="0.65"/><circle cx="519.60" cy="171.70" r="0.65"/><circle cx="517.50" cy="166.60" r="0.65"/><circle cx="515.40" cy="161.40" r="0.65"/><circle cx="512.90" cy="155.40" r="0.65"/><circle cx="509.90" cy="149.30" r="0.65"/><circle cx="506.30" cy="141.40" r="0.65"/><circle cx="502.30" cy="133.20" r="0.65"/><circle cx="497.20" cy="123.40" r="0.65"/><circle cx="490.10" cy="113.20" r="0.65"/><circle cx="480.60" cy="102.70" r="0.65"/><circle cx="469.80" cy="92.50" r="0.65"/><circle cx="455.80" cy="83.40" r="0.65"/><circle cx="440.10" cy="77.00" r="0.65"/><circle cx="423.40" cy="74.60" r="0.65"/><circle cx="406.50" cy="76.00" r="0.65"/><circle cx="390.60" cy="81.30" r="0.65"/><circle cx="376.30" cy="89.10" r="0.65"/><circle cx="363.90" cy="99.80" r="0.65"/><circle cx="354.10" cy="110.80" r="0.65"/><circle cx="346.30" cy="122.00" r="0.65"/><circle cx="340.50" cy="132.20" r="0.65"/><circle cx="336.20" cy="141.40" r="0.65"/><circle cx="333.10" cy="150.10" r="0.65"/><circle cx="330.40" cy="157.70" r="0.65"/><circle cx="328.80" cy="163.70" r="0.65"/><circle cx="327.20" cy="169.60" r="0.65"/><circle cx="326.60" cy="172.90" r="0.65"/><circle cx="325.65" cy="176.97" r="0.65"/><circle cx="324.90" cy="180.41" r="0.65"/><circle cx="324.30" cy="183.33" r="0.65"/></g>
<rect x="324.5" y="19.50" width="222.00" height="179.00" fill="none" stroke="#333333" stroke-width="1.05"/>
<path d="M324.50,198.5 v-3 M357.80,198.5 v-2 M391.10,198.5 v-3 M424.40,198.5 v-2 M457.70,198.5 v-3 M491.00,198.5 v-2 M524.30,198.5 v-3 M324.5,198.50 h-3.5 M324.5,168.67 h-1.5 M324.5,138.83 h-3.5 M324.5,109.00 h-1.5 M324.5,79.17 h-3.5 M324.5,49.33 h-1.5 M324.5,19.50 h-3.5" stroke="#333333" stroke-width="0.9" fill="none"/>
<text x="324.50" y="208.1" font-size="7.8" text-anchor="middle" fill="#222222" font-family="Liberation Sans, sans-serif" stroke="#222" stroke-width="0.22">0</text>
<text x="391.10" y="208.1" font-size="7.8" text-anchor="middle" fill="#222222" font-family="Liberation Sans, sans-serif" stroke="#222" stroke-width="0.22">1500</text>
<text x="457.70" y="208.1" font-size="7.8" text-anchor="middle" fill="#222222" font-family="Liberation Sans, sans-serif" stroke="#222" stroke-width="0.22">3000</text>
<text x="524.30" y="208.1" font-size="7.8" text-anchor="middle" fill="#222222" font-family="Liberation Sans, sans-serif" stroke="#222" stroke-width="0.22">4500</text>
<text x="318.6" y="200.70" font-size="7.8" text-anchor="end" fill="#222222" font-family="Liberation Sans, sans-serif" stroke="#222" stroke-width="0.22">0</text>
<text x="318.6" y="141.03" font-size="7.8" text-anchor="end" fill="#222222" font-family="Liberation Sans, sans-serif" stroke="#222" stroke-width="0.22">1000</text>
<text x="318.6" y="81.37" font-size="7.8" text-anchor="end" fill="#222222" font-family="Liberation Sans, sans-serif" stroke="#222" stroke-width="0.22">2000</text>
<text x="318.6" y="21.70" font-size="7.8" text-anchor="end" fill="#222222" font-family="Liberation Sans, sans-serif" stroke="#222" stroke-width="0.22">3000</text>
<text x="423.6" y="223.8" font-size="9.6" fill="#222222" font-family="Liberation Sans, sans-serif" stroke="#222" stroke-width="0.22">Z' (<tspan font-family="Liberation Serif, serif">Ω</tspan>)</text>
<text transform="translate(297.6,108.4) rotate(-90)" font-size="9.9" text-anchor="middle" fill="#222222" font-family="Liberation Sans, sans-serif" stroke="#222" stroke-width="0.22">-Z'' (<tspan font-family="Liberation Serif, serif">Ω</tspan>)</text>
<path d="M433.6,33.10 H454.8" stroke="#111111" stroke-width="1.15"/>
<circle cx="444.4" cy="33.10" r="2.05" fill="#111111"/><circle cx="444.4" cy="32.90" r="0.6" fill="#7a7a7a"/>
<text x="457.4" y="36.40" font-size="9.3" fill="#222222" font-family="Liberation Sans, sans-serif" stroke="#222" stroke-width="0.22">Control</text>
<path d="M433.6,44.45 H454.8" stroke="#FF8A12" stroke-width="1.15"/>
<circle cx="444.4" cy="44.45" r="2.05" fill="#FF8A12"/><circle cx="444.4" cy="44.25" r="0.6" fill="#FFBE70"/>
<text x="457.4" y="47.75" font-size="9.3" fill="#222222" font-family="Liberation Sans, sans-serif" stroke="#222" stroke-width="0.22">PEACl/IPA</text>
<path d="M433.6,55.80 H454.8" stroke="#F01212" stroke-width="1.15"/>
<circle cx="444.4" cy="55.80" r="2.05" fill="#F01212"/><circle cx="444.4" cy="55.60" r="0.6" fill="#FF8080"/>
<text x="457.4" y="59.10" font-size="9.3" fill="#222222" font-family="Liberation Sans, sans-serif" stroke="#222" stroke-width="0.22">PEACl/DMSO+IPA</text>
<g fill="none" stroke="#555555" stroke-width="0.9">
<path d="M333.3,41.4 H345.2 M360.8,41.4 H378.6 M382.8,41.4 H403.1"/>
<rect x="345.2" y="38.3" width="15.6" height="6.1"/>
<path d="M378.6,39.2 V43.6 M382.8,39.2 V43.6"/>
<path d="M367.7,41.4 V52.6 Q367.7,54.2 369.3,54.2 H373.1 M388.8,54.2 H394 Q395.6,54.2 395.6,52.6 V41.4"/>
<rect x="373.1" y="51.4" width="15.7" height="5.9"/>
</g>
<text x="377.7" y="34.6" font-size="9" font-style="italic" fill="#222222" font-family="Liberation Sans, sans-serif" stroke="#222" stroke-width="0.22">C</text>
<text x="349.5" y="53.8" font-size="9" font-style="italic" fill="#222222" font-family="Liberation Sans, sans-serif" stroke="#222" stroke-width="0.22">R<tspan font-size="7" dy="2.4">s</tspan></text>
<text x="378" y="66.3" font-size="9" font-style="italic" fill="#222222" font-family="Liberation Sans, sans-serif" stroke="#222" stroke-width="0.22">R<tspan font-size="6.6" dy="1.9">rec</tspan></text>
</svg></body></html>
